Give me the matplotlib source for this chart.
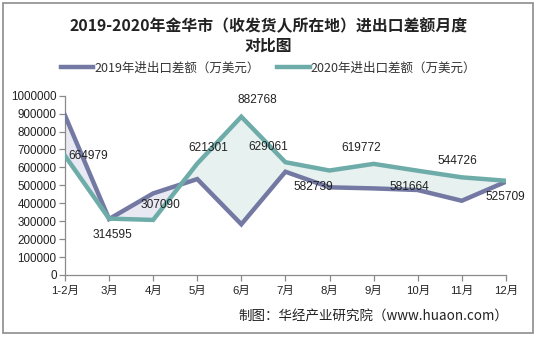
import matplotlib
matplotlib.use("Agg")
import matplotlib.pyplot as plt
from matplotlib.patches import Rectangle
from matplotlib.lines import Line2D
import numpy as np

plt.rcParams['font.family'] = ['Noto Sans CJK SC', 'DejaVu Sans']

months = ["1-2月", "3月", "4月", "5月", "6月", "7月", "8月", "9月", "10月", "11月", "12月"]
v2019 = [890000, 312000, 455000, 535000, 283000, 576000, 489000, 483000, 474000, 414000, 520000]
v2020 = [664979, 314595, 307090, 621301, 882768, 629061, 582739, 619772, 581664, 544726, 525709]
labels2020 = ["664979", "314595", "307090", "621301", "882768", "629061", "582739",
              "619772", "581664", "544726", "525709"]
yticks = list(range(0, 1000001, 100000))

c19 = "#7479A3"
c20 = "#6EACA9"
num_font = ["Liberation Sans", "Noto Sans CJK SC"]

fig = plt.figure(figsize=(5.37, 3.37), dpi=100)
fig.patch.set_facecolor("white")
ax = fig.add_axes([0.121, 0.184, 0.821, 0.532])

x = np.arange(len(months))
a19 = np.array(v2019, dtype=float)
a20 = np.array(v2020, dtype=float)
ax.fill_between(x, a19, a20, where=a19 >= a20, interpolate=True, color="#E8E9F3", lw=0)
ax.fill_between(x, a19, a20, where=a20 >= a19, interpolate=True, color="#E6F1F0", lw=0)
ax.plot(x, a19, color=c19, lw=3.2, solid_joinstyle="miter", zorder=3)
ax.plot(x, a20, color=c20, lw=3.2, solid_joinstyle="miter", zorder=4)

offsets = [(3, 0), (3, -16), (7, 15), (11, 16), (16, 17), (-17, 15), (-16, -16),
           (-12, 16), (-8, -16), (-4, 16), (0, -16)]
for i, (lab, (dx, dy)) in enumerate(zip(labels2020, offsets)):
    ha = "left" if i == 0 else "center"
    ax.annotate(lab, (x[i], a20[i]), xytext=(dx, dy), textcoords="offset pixels",
                ha=ha, va="center", fontsize=8.6, color="#222222",
                family=num_font, zorder=5)

ax.set_xlim(0, len(months) - 1)
ax.set_ylim(0, 1000000)
ax.set_yticks(yticks)
ax.set_yticklabels([str(v) for v in yticks], fontsize=8.4, color="#222222", family=num_font)
ax.set_xticks(x)
ax.set_xticklabels(months, fontsize=8.2, color="#222222", family=num_font)
for s in ["top", "right"]:
    ax.spines[s].set_visible(False)
for s in ["left", "bottom"]:
    ax.spines[s].set_color("#8a8a8a")
    ax.spines[s].set_linewidth(0.9)
ax.tick_params(axis="both", color="#8a8a8a", length=4, width=0.9, pad=2)
ax.tick_params(axis="x", pad=4)
ax.set_facecolor("white")

fig.text(0.5, 1 - 26 / 337, "2019-2020年金华市（收发货人所在地）进出口差额月度", ha="center", va="center",
         fontsize=11.4, fontweight="bold", color="#222222")
fig.text(0.5, 1 - 46 / 337, "对比图", ha="center", va="center",
         fontsize=11.4, fontweight="bold", color="#222222")

handles = [Line2D([0], [0], color=c19, lw=3.2), Line2D([0], [0], color=c20, lw=3.2)]
fig.legend(handles, ["2019年进出口差额（万美元）", "2020年进出口差额（万美元）"],
           loc="center", bbox_to_anchor=(0.5, 1 - 68 / 337), ncol=2, frameon=False,
           fontsize=9, handlelength=2.6, handletextpad=0.1, columnspacing=1.4,
           labelcolor="#333333")

fig.text(508 / 537, 1 - 317 / 337, "制图：华经产业研究院（www.huaon.com）", ha="right", va="center",
         fontsize=9.7, color="#222222")

fig.patches.append(Rectangle((3 / 537, 4 / 337), 530 / 537, 330 / 337, transform=fig.transFigure,
                             fill=False, edgecolor="#8c8c8c", lw=1.2))

fig.savefig("out.png", dpi=100, facecolor="white")
